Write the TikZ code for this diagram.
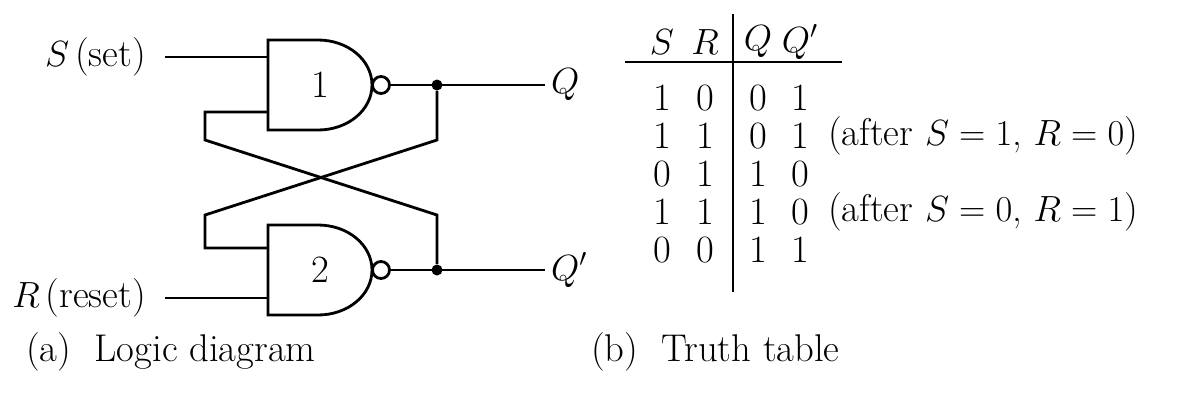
\documentclass[tikz,border=0pt]{standalone}
\usepackage{amsmath}
\usetikzlibrary{positioning,calc}
\tikzset{
  wire/.style={line width=1.6pt},
  bubble/.style={circle,draw,line width=1.6pt,minimum size=0.34cm,inner sep=0pt},
  junct/.style={circle,fill,minimum size=0.22cm,inner sep=0pt},
  lbl/.style={font=\fontsize{22}{24}\selectfont},
}
\newcommand{\nandbody}[1]{% top y of gate
  \draw[wire] (268,#1) -- (318,#1) .. controls (348,#1) and (372,#1+20) .. (372,#1+45)
    .. controls (372,#1+70) and (348,#1+90) .. (318,#1+90) -- (268,#1+90) -- cycle;}
\begin{document}
\begin{tikzpicture}[x=0.02cm,y=-0.02cm]
\useasboundingbox (0,0) rectangle (1194,400);
% gates
\nandbody{40}
\nandbody{225}
\node[lbl] (g1) at (320,85) {1};
\node[lbl] (g2) at (320,270) {2};
\node[bubble] (b1) at (381,85) {};
\node[bubble] (b2) at (381,270) {};
\node[junct] (j1) at (437,85) {};
\node[junct] (j2) at (437,270) {};
% outputs
\node[lbl,anchor=west] (q) at (545,85) {$Q$};
\node[lbl,anchor=west] (qn) at (545,270) {$Q'$};
\draw[wire] (b1.east) -- (q.west);
\draw[wire] (b2.east) -- (qn.west);
% inputs
\node[lbl,anchor=east] (s) at (152,57) {$S\,$(set)};
\node[lbl,anchor=east] (r) at (152,298) {$R\,$(reset)};
\coordinate (s1) at (268,57);
\coordinate (r2) at (268,298);
\draw[wire] (165,57) -- (s1);
\draw[wire] (165,298) -- (r2);
% cross coupling
\coordinate (i1) at (268,112);
\coordinate (i2) at (268,248);
\draw[wire] (i1) -- (205,112) -- (205,140) -- (437,215) -- (j2);
\draw[wire] (i2) -- (205,248) -- (205,215) -- (437,140) -- (j1);
\node[lbl,anchor=west] (capa) at (20,352) {(a)\ \ Logic diagram};
% truth table
\draw[wire] (625,62) -- (842,62);
\draw[wire] (733,14) -- (733,292);
\foreach \x/\t in {662/S,705/R,758/Q,800/Q'}
  \node[lbl] (h\t) at (\x,42) {$\t$};
\foreach \y/\a/\b/\c/\d in {98/1/0/0/1,136/1/1/0/1,174/0/1/1/0,212/1/1/1/0,250/0/0/1/1}{
  \node[lbl] at (662,\y) {\a};
  \node[lbl] at (705,\y) {\b};
  \node[lbl] at (758,\y) {\c};
  \node[lbl] at (800,\y) {\d};
}
\node[lbl,anchor=west] (n1) at (822,136) {(after $S=1$, $R=0$)};
\node[lbl,anchor=west] (n2) at (822,212) {(after $S=0$, $R=1$)};
\node[lbl,anchor=west] (capb) at (585,352) {(b)\ \ Truth table};
\end{tikzpicture}
\end{document}
